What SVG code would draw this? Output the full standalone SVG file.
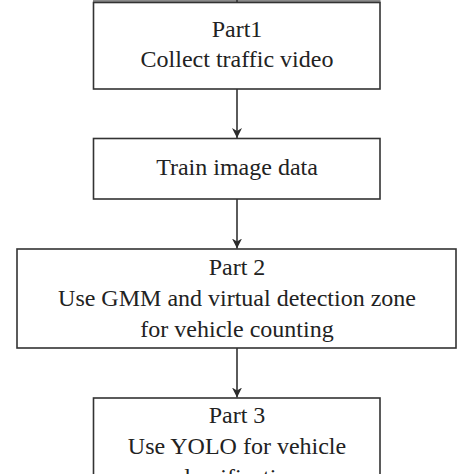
<svg xmlns="http://www.w3.org/2000/svg" width="474" height="474" viewBox="0 0 474 474">
<defs>
<marker id="arr" viewBox="0 0 10 10" refX="10" refY="5" markerWidth="10" markerHeight="10" markerUnits="userSpaceOnUse" orient="auto">
<path d="M0,0 L10,5 L0,10 L3,5 Z" fill="#2b2b2b"/>
</marker>
</defs>
<style>
.box{fill:#ffffff;stroke:#333333;stroke-width:1.6}
.t{font-family:"Liberation Serif","Times New Roman",serif;font-size:24px;fill:#222222;text-anchor:middle}
.c{stroke:#333333;stroke-width:1.6;fill:none}
</style>
<rect width="474" height="474" fill="#ffffff"/>
<rect x="93" y="0" width="287.5" height="2.5" fill="#8a8a8a"/>
<g id="node1">
<rect class="box" x="93.5" y="2.5" width="286.5" height="86.5"/>
<text class="t" x="237" y="37">Part1</text>
<text class="t" x="237" y="67">Collect traffic video</text>
</g>
<g id="node2">
<rect class="box" x="93.5" y="138.5" width="286.5" height="60.5"/>
<text class="t" x="237" y="175">Train image data</text>
</g>
<g id="node3">
<rect class="box" x="17" y="249" width="439" height="99"/>
<text class="t" x="237" y="275">Part 2</text>
<text class="t" x="237" y="306">Use GMM and virtual detection zone</text>
<text class="t" x="237" y="337">for vehicle counting</text>
</g>
<g id="node4">
<rect class="box" x="93.5" y="398" width="286.5" height="100"/>
<text class="t" x="237" y="423">Part 3</text>
<text class="t" x="237" y="454">Use YOLO for vehicle</text>
<text class="t" x="237" y="485">classification</text>
</g>
<g id="connectors">
<line class="c" x1="237" y1="0" x2="237" y2="2.5"/>
<line class="c" x1="237" y1="89" x2="237" y2="138" marker-end="url(#arr)"/>
<line class="c" x1="237" y1="199" x2="237" y2="248.5" marker-end="url(#arr)"/>
<line class="c" x1="237" y1="348" x2="237" y2="397.5" marker-end="url(#arr)"/>
</g>
</svg>
